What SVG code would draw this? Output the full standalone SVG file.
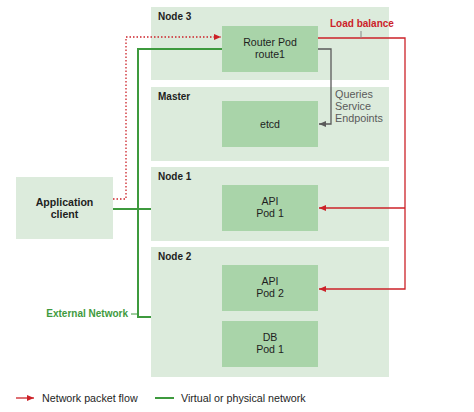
<svg xmlns="http://www.w3.org/2000/svg" width="474" height="412" viewBox="0 0 474 412">
<defs>
<style>
.panel{fill:#dcebdc}
.pod{fill:#a9d4a9}
.t{font-family:"Liberation Sans",Arial,sans-serif;font-size:10px;font-weight:bold;fill:#1e1e1e}
.pt{font-family:"Liberation Sans",Arial,sans-serif;font-size:10.6px;fill:#1e1e1e;text-anchor:middle}
.red{stroke:#cc2229;stroke-width:1.3;fill:none}
.green{stroke:#3e9a3e;stroke-width:2;fill:none}
.gray{stroke:#5a5a5a;stroke-width:1.3;fill:none}
.lg{font-family:"Liberation Sans",Arial,sans-serif;font-size:10.7px;fill:#1e1e1e}
</style>
<marker id="ar" markerWidth="8" markerHeight="8" refX="7" refY="4" orient="auto" markerUnits="userSpaceOnUse"><path d="M0,1 L7,4 L0,7 Z" fill="#cc2229"/></marker>
<marker id="ag" markerWidth="8" markerHeight="8" refX="7" refY="4" orient="auto" markerUnits="userSpaceOnUse"><path d="M0,1 L7,4 L0,7 Z" fill="#5a5a5a"/></marker>
</defs>
<rect width="474" height="412" fill="#ffffff"/>
<g id="node3"><rect class="panel" x="151" y="7" width="238" height="73"/><text class="t" x="158" y="20">Node 3</text></g>
<g id="master"><rect class="panel" x="151" y="87" width="238" height="74"/><text class="t" x="158" y="100">Master</text></g>
<g id="node1"><rect class="panel" x="151" y="167" width="238" height="74"/><text class="t" x="158" y="180">Node 1</text></g>
<g id="node2"><rect class="panel" x="151" y="247" width="238" height="130"/><text class="t" x="158" y="260">Node 2</text></g>
<g id="app"><rect class="panel" x="16" y="177" width="97" height="62"/><text class="pt" font-weight="bold" x="64.5" y="206">Application</text><text class="pt" font-weight="bold" x="64.5" y="218">client</text></g>
<g id="router"><rect class="pod" x="222" y="26" width="96" height="46"/><text class="pt" x="270" y="46">Router Pod</text><text class="pt" x="270" y="58">route1</text></g>
<g id="etcd"><rect class="pod" x="222" y="101" width="96" height="46"/><text class="pt" x="270" y="128">etcd</text></g>
<g id="api1"><rect class="pod" x="222" y="185" width="96" height="46"/><text class="pt" x="270" y="205">API</text><text class="pt" x="270" y="217">Pod 1</text></g>
<g id="api2"><rect class="pod" x="222" y="265" width="96" height="46"/><text class="pt" x="270" y="285">API</text><text class="pt" x="270" y="297">Pod 2</text></g>
<g id="db"><rect class="pod" x="222" y="321" width="96" height="46"/><text class="pt" x="270" y="341">DB</text><text class="pt" x="270" y="353">Pod 1</text></g>
<g id="connectors">
<path class="green" d="M222,49 H138 V317 H151"/>
<path class="green" d="M113,209 H151"/>
<path d="M131,314 H138" stroke="#3e9a3e" stroke-width="1"/>
<path class="red" stroke-dasharray="1.5,2" d="M113,199 H126 V37 H221" marker-end="url(#ar)"/>
<path class="red" d="M318,38 H405 V289 H319" marker-end="url(#ar)"/>
<path class="red" d="M405,208 H319" marker-end="url(#ar)"/>
<path d="M361,31 V38" stroke="#888" stroke-width="1"/>
<path class="gray" d="M318,49 H331 V124 H319" marker-end="url(#ag)"/>
</g>
<text font-family="Liberation Sans,Arial,sans-serif" font-size="10" font-weight="bold" fill="#cc2229" x="330" y="27">Load balance</text>
<text font-family="Liberation Sans,Arial,sans-serif" font-size="10.8" fill="#5a5a5a"><tspan x="335" y="98">Queries</tspan><tspan x="335" y="110">Service</tspan><tspan x="335" y="122">Endpoints</tspan></text>
<text font-family="Liberation Sans,Arial,sans-serif" font-size="10" font-weight="bold" fill="#3e9a3e" x="128" y="317" text-anchor="end">External Network</text>
<g id="legend">
<path class="red" d="M16,398 H34" marker-end="url(#ar)"/>
<text class="lg" x="42" y="401.5">Network packet flow</text>
<path class="green" d="M155,398 H174"/>
<text class="lg" x="181" y="401.5">Virtual or physical network</text>
</g>
</svg>
